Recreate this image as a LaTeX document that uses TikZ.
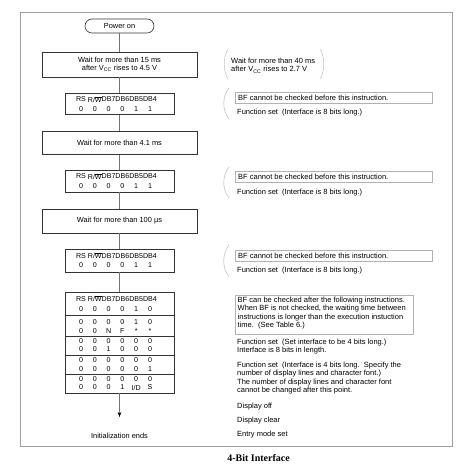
\documentclass[tikz,border=0pt]{standalone}
\usepackage{fontspec}
\setmainfont{Liberation Sans}
\newfontfamily\capfont{Liberation Serif}
\usetikzlibrary{arrows.meta}
\newcommand{\fsA}{\fontsize{7.4}{8.4}\selectfont}
\newcommand{\fsB}{\fontsize{7.5}{8.35}\selectfont}
\newcommand{\fsC}{\fontsize{7.1}{8.4}\selectfont}
\newcommand{\RWlabel}{R/\rlap{\raisebox{5.5pt}{\rule{6.6pt}{0.4pt}}}W}
\newcommand{\drow}[3]{%
  \foreach \t [count=\i] in {#3} \node[cell] (#1-\i) at ({81+13.8*(\i-1)},#2) {\t};}
\begin{document}
\begin{tikzpicture}[x=1pt,y=-1pt,
  frame/.style={draw=black!38, line width=1.3pt, inner sep=0pt},
  box/.style={draw=black!80, line width=0.6pt, fill=white, inner sep=0pt, font=\fsA, align=center},
  conn/.style={draw=black!55, line width=0.5pt},
  sepline/.style={draw=black!80, line width=0.5pt},
  cell/.style={font=\fsC, inner sep=0pt},
  note/.style={font=\fsB, inner sep=0pt, anchor=north west, align=left},
  bfbox/.style={draw=black!30, line width=0.5pt, anchor=north west, inner sep=0pt},
  paren/.style={draw=black!22, line width=0.6pt}]
\useasboundingbox (0,0) rectangle (474,470);
\fill[white] (0,0) rectangle (474,470);
\node[frame, minimum width=432pt, minimum height=434pt, anchor=north west] (frame) at (20,12) {};

% left column
\node[box, rounded corners=7pt, minimum width=69pt, minimum height=14pt] (pow) at (119.5,26) {Power on};
\node[box, minimum width=155pt, minimum height=25pt] (w15) at (119.5,64.5)
  {Wait for more than 15 ms\\after V\textsubscript{CC} rises to 4.5 V};
\node[box, minimum width=109pt, minimum height=21pt] (fs1) at (119.5,104) {};
\node[box, minimum width=155pt, minimum height=23pt] (w41) at (119.5,143) {Wait for more than 4.1 ms};
\node[box, minimum width=109pt, minimum height=22pt] (fs2) at (119.5,181) {};
\node[box, minimum width=155pt, minimum height=24pt] (w100) at (119.5,221) {Wait for more than 100 µs};
\node[box, minimum width=109pt, minimum height=23pt] (fs3) at (119.5,260.5) {};
\node[box, minimum width=109pt, minimum height=101pt] (tbl) at (119.5,342.5) {};

\draw[conn] (pow) -- (w15);
\draw[conn] (w15) -- (fs1);
\draw[conn] (fs1) -- (w41);
\draw[conn] (w41) -- (fs2);
\draw[conn] (fs2) -- (w100);
\draw[conn] (w100) -- (fs3);
\draw[conn] (fs3) -- (tbl);
\coordinate (endpt) at (119.5,417);
\draw[conn, -{Stealth[length=5pt,width=3.6pt,color=black]}] (tbl) -- (endpt);
\node[font=\fsA, inner sep=0pt] (initend) at (119.5,436) {Initialization ends};

% table rows
\drow{ha}{99.5}{RS,\RWlabel,DB7,DB6,DB5,DB4}
\drow{ra}{109}{0,0,0,0,1,1}
\drow{hb}{176.5}{RS,\RWlabel,DB7,DB6,DB5,DB4}
\drow{rb}{186}{0,0,0,0,1,1}
\drow{hc}{256}{RS,\RWlabel,DB7,DB6,DB5,DB4}
\drow{rc}{265.5}{0,0,0,0,1,1}
\drow{hd}{299}{RS,\RWlabel,DB7,DB6,DB5,DB4}
\drow{r1}{309}{0,0,0,0,1,0}
\drow{r2}{322.5}{0,0,0,0,1,0}
\drow{r3}{331}{0,0,N,F,*,*}
\drow{r4}{341}{0,0,0,0,0,0}
\drow{r5}{349.5}{0,0,1,0,0,0}
\drow{r6}{360}{0,0,0,0,0,0}
\drow{r7}{369.5}{0,0,0,0,0,1}
\drow{r8}{379}{0,0,0,0,0,0}
\drow{r9}{387.5}{0,0,0,1,I/D,S}
\draw[sepline] (65,315.5) -- (174,315.5);
\draw[sepline] (65,336) -- (174,336);
\draw[sepline] (65,355) -- (174,355);
\draw[sepline] (65,374.5) -- (174,374.5);

% right column
\draw[paren] (228,49) .. controls (223,57) and (223,71) .. (228,79);
\draw[paren] (320,49) .. controls (325,57) and (325,71) .. (320,79);
\node[note] (n40) at (231,58) {Wait for more than 40 ms\\after V\textsubscript{CC} rises to 2.7 V};

\draw[paren] (229,88) .. controls (222,97) and (222,110) .. (229,119);
\node[bfbox, minimum width=197pt, minimum height=11pt] (bf1) at (235,92) {};
\node[note] (bf1t) at (238,94.5) {BF cannot be checked before this instruction.};
\node[note] (fs1t) at (237,109) {Function set\ \ (Interface is 8 bits long.)};

\draw[paren] (229,167) .. controls (222,176) and (222,189) .. (229,198);
\node[bfbox, minimum width=197pt, minimum height=11pt] (bf2) at (235,171) {};
\node[note] (bf2t) at (238,173.5) {BF cannot be checked before this instruction.};
\node[note] (fs2t) at (237,189) {Function set\ \ (Interface is 8 bits long.)};

\draw[paren] (229,245) .. controls (222,254) and (222,268) .. (229,277);
\node[bfbox, minimum width=197pt, minimum height=11pt] (bf3) at (235,250) {};
\node[note] (bf3t) at (238,252.5) {BF cannot be checked before this instruction.};
\node[note] (fs3t) at (237,267) {Function set\ \ (Interface is 8 bits long.)};

\node[bfbox, minimum width=178pt, minimum height=39pt] (bf4) at (235,295) {};
\node[note] (bf4t) at (237.5,297) {BF can be checked after the following instructions.\\
When BF is not checked, the waiting time between\\
instructions is longer than the execution instuction\\
time.\ \ (See Table 6.)};
\node[note] (t1) at (237,339) {Function set\ \ (Set interface to be 4 bits long.)\\Interface is 8 bits in length.};
\node[note] (t2) at (237,362) {Function set\ \ (Interface is 4 bits long.\ \ Specify the\\
number of display lines and character font.)\\
The number of display lines and character font\\
cannot be changed after this point.};
\node[note] (t3) at (237,403) {Display off};
\node[note] (t4) at (237,417) {Display clear};
\node[note] (t5) at (237,431) {Entry mode set};

\node[font=\capfont\bfseries\fontsize{10}{12}\selectfont, inner sep=0pt] (cap) at (258.5,458) {4-Bit Interface};
\end{tikzpicture}
\end{document}
